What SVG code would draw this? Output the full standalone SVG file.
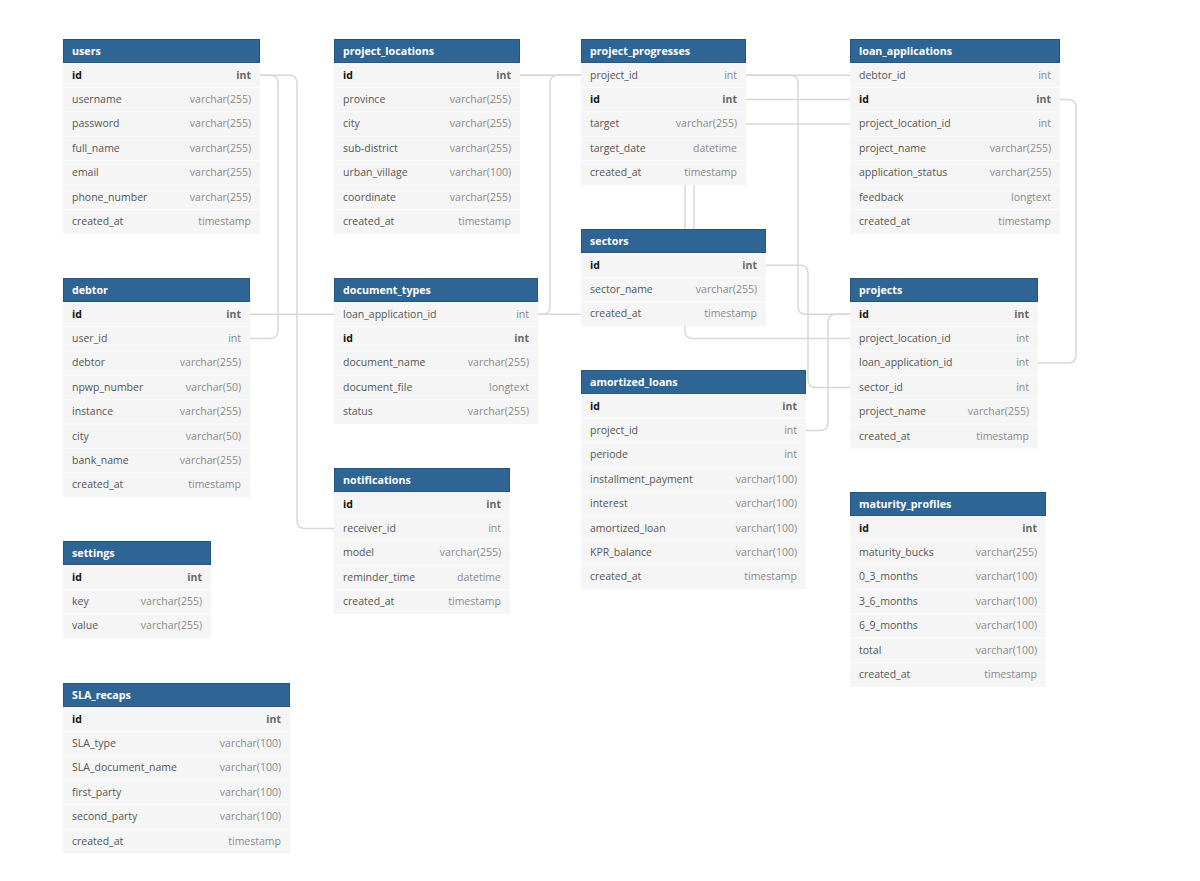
<svg xmlns="http://www.w3.org/2000/svg" width="1200" height="881" viewBox="0 0 1200 881">
<style>
.hd{fill:#2f6594;stroke:#24557f;stroke-width:1}
.bd{fill:#f5f5f5}
.sep{stroke:#fbfbfb;stroke-width:1}
.tt{font-family:"Open Sans","Liberation Sans",sans-serif;font-size:10.7px;font-weight:bold;fill:#ffffff}
.f{font-family:"Open Sans","Liberation Sans",sans-serif;font-size:10.5px;fill:#555555}
.t{font-family:"Open Sans","Liberation Sans",sans-serif;font-size:10.5px;fill:#8a8a8a;text-anchor:end}
.fk{font-family:"Open Sans","Liberation Sans",sans-serif;font-size:10.5px;fill:#111111;font-weight:bold}
.tk{font-family:"Open Sans","Liberation Sans",sans-serif;font-size:10.5px;fill:#666666;font-weight:bold;text-anchor:end}
.c{fill:none;stroke:#d8d8d8;stroke-width:1.5}
</style>
<rect width="1200" height="881" fill="#ffffff"/>
<g id="connectors">
<path class="c" d="M260,75.2 H270 Q278,75.2 278,83.2 V330.6 Q278,338.6 270,338.6 H250"/>
<path class="c" d="M260,75.2 H289 Q297,75.2 297,83.2 V520.6 Q297,528.6 305,528.6 H334"/>
<path class="c" d="M250,314.2 H542 Q550,314.2 550,306.2 V83.2 Q550,75.2 558,75.2 H850"/>
<path class="c" d="M538,314.2 H686 Q694,314.2 694,306.2 V107.6 Q694,99.6 702,99.6 H850"/>
<path class="c" d="M520,75.2 H677 Q685,75.2 685,83.2 V116 Q685,124 693,124 H850"/>
<path class="c" d="M520,75.2 H677 Q685,75.2 685,83.2 V330.6 Q685,338.6 693,338.6 H850"/>
<path class="c" d="M746,75.2 H790 Q798,75.2 798,83.2 V306.2 Q798,314.2 806,314.2 H850"/>
<path class="c" d="M766,265.2 H800 Q808,265.2 808,273.2 V379.4 Q808,387.4 816,387.4 H850"/>
<path class="c" d="M806,430.6 H820 Q828,430.6 828,422.6 V322.2 Q828,314.2 836,314.2 H850"/>
<path class="c" d="M1038,363 H1068 Q1076,363 1076,355 V107.6 Q1076,99.6 1068,99.6 H1060"/>
</g>

<g id="users" transform="translate(63,39)">
<rect class="bd" x="0" y="24" width="197" height="170.8"/>
<path class="sep" d="M0,48.4H197M0,72.8H197M0,97.2H197M0,121.6H197M0,146H197M0,170.4H197"/>
<rect class="hd" x="0.5" y="0.5" width="196" height="23"/>
<text class="tt" x="9" y="15.5">users</text>
<text class="fk" x="9" y="39.5">id</text><text class="tk" x="188" y="39.5">int</text>
<text class="f" x="9" y="63.9">username</text><text class="t" x="188" y="63.9">varchar(255)</text>
<text class="f" x="9" y="88.3">password</text><text class="t" x="188" y="88.3">varchar(255)</text>
<text class="f" x="9" y="112.7">full_name</text><text class="t" x="188" y="112.7">varchar(255)</text>
<text class="f" x="9" y="137.1">email</text><text class="t" x="188" y="137.1">varchar(255)</text>
<text class="f" x="9" y="161.5">phone_number</text><text class="t" x="188" y="161.5">varchar(255)</text>
<text class="f" x="9" y="185.9">created_at</text><text class="t" x="188" y="185.9">timestamp</text>
</g>

<g id="project_locations" transform="translate(334,39)">
<rect class="bd" x="0" y="24" width="186" height="170.8"/>
<path class="sep" d="M0,48.4H186M0,72.8H186M0,97.2H186M0,121.6H186M0,146H186M0,170.4H186"/>
<rect class="hd" x="0.5" y="0.5" width="185" height="23"/>
<text class="tt" x="9" y="15.5">project_locations</text>
<text class="fk" x="9" y="39.5">id</text><text class="tk" x="177" y="39.5">int</text>
<text class="f" x="9" y="63.9">province</text><text class="t" x="177" y="63.9">varchar(255)</text>
<text class="f" x="9" y="88.3">city</text><text class="t" x="177" y="88.3">varchar(255)</text>
<text class="f" x="9" y="112.7">sub-district</text><text class="t" x="177" y="112.7">varchar(255)</text>
<text class="f" x="9" y="137.1">urban_village</text><text class="t" x="177" y="137.1">varchar(100)</text>
<text class="f" x="9" y="161.5">coordinate</text><text class="t" x="177" y="161.5">varchar(255)</text>
<text class="f" x="9" y="185.9">created_at</text><text class="t" x="177" y="185.9">timestamp</text>
</g>

<g id="project_progresses" transform="translate(581,39)">
<rect class="bd" x="0" y="24" width="165" height="122"/>
<path class="sep" d="M0,48.4H165M0,72.8H165M0,97.2H165M0,121.6H165"/>
<rect class="hd" x="0.5" y="0.5" width="164" height="23"/>
<text class="tt" x="9" y="15.5">project_progresses</text>
<text class="f" x="9" y="39.5">project_id</text><text class="t" x="156" y="39.5">int</text>
<text class="fk" x="9" y="63.9">id</text><text class="tk" x="156" y="63.9">int</text>
<text class="f" x="9" y="88.3">target</text><text class="t" x="156" y="88.3">varchar(255)</text>
<text class="f" x="9" y="112.7">target_date</text><text class="t" x="156" y="112.7">datetime</text>
<text class="f" x="9" y="137.1">created_at</text><text class="t" x="156" y="137.1">timestamp</text>
</g>

<g id="loan_applications" transform="translate(850,39)">
<rect class="bd" x="0" y="24" width="210" height="170.8"/>
<path class="sep" d="M0,48.4H210M0,72.8H210M0,97.2H210M0,121.6H210M0,146H210M0,170.4H210"/>
<rect class="hd" x="0.5" y="0.5" width="209" height="23"/>
<text class="tt" x="9" y="15.5">loan_applications</text>
<text class="f" x="9" y="39.5">debtor_id</text><text class="t" x="201" y="39.5">int</text>
<text class="fk" x="9" y="63.9">id</text><text class="tk" x="201" y="63.9">int</text>
<text class="f" x="9" y="88.3">project_location_id</text><text class="t" x="201" y="88.3">int</text>
<text class="f" x="9" y="112.7">project_name</text><text class="t" x="201" y="112.7">varchar(255)</text>
<text class="f" x="9" y="137.1">application_status</text><text class="t" x="201" y="137.1">varchar(255)</text>
<text class="f" x="9" y="161.5">feedback</text><text class="t" x="201" y="161.5">longtext</text>
<text class="f" x="9" y="185.9">created_at</text><text class="t" x="201" y="185.9">timestamp</text>
</g>

<g id="debtor" transform="translate(63,278)">
<rect class="bd" x="0" y="24" width="187" height="195.2"/>
<path class="sep" d="M0,48.4H187M0,72.8H187M0,97.2H187M0,121.6H187M0,146H187M0,170.4H187M0,194.8H187"/>
<rect class="hd" x="0.5" y="0.5" width="186" height="23"/>
<text class="tt" x="9" y="15.5">debtor</text>
<text class="fk" x="9" y="39.5">id</text><text class="tk" x="178" y="39.5">int</text>
<text class="f" x="9" y="63.9">user_id</text><text class="t" x="178" y="63.9">int</text>
<text class="f" x="9" y="88.3">debtor</text><text class="t" x="178" y="88.3">varchar(255)</text>
<text class="f" x="9" y="112.7">npwp_number</text><text class="t" x="178" y="112.7">varchar(50)</text>
<text class="f" x="9" y="137.1">instance</text><text class="t" x="178" y="137.1">varchar(255)</text>
<text class="f" x="9" y="161.5">city</text><text class="t" x="178" y="161.5">varchar(50)</text>
<text class="f" x="9" y="185.9">bank_name</text><text class="t" x="178" y="185.9">varchar(255)</text>
<text class="f" x="9" y="210.3">created_at</text><text class="t" x="178" y="210.3">timestamp</text>
</g>

<g id="document_types" transform="translate(334,278)">
<rect class="bd" x="0" y="24" width="204" height="122"/>
<path class="sep" d="M0,48.4H204M0,72.8H204M0,97.2H204M0,121.6H204"/>
<rect class="hd" x="0.5" y="0.5" width="203" height="23"/>
<text class="tt" x="9" y="15.5">document_types</text>
<text class="f" x="9" y="39.5">loan_application_id</text><text class="t" x="195" y="39.5">int</text>
<text class="fk" x="9" y="63.9">id</text><text class="tk" x="195" y="63.9">int</text>
<text class="f" x="9" y="88.3">document_name</text><text class="t" x="195" y="88.3">varchar(255)</text>
<text class="f" x="9" y="112.7">document_file</text><text class="t" x="195" y="112.7">longtext</text>
<text class="f" x="9" y="137.1">status</text><text class="t" x="195" y="137.1">varchar(255)</text>
</g>

<g id="sectors" transform="translate(581,229)">
<rect class="bd" x="0" y="24" width="185" height="73.2"/>
<path class="sep" d="M0,48.4H185M0,72.8H185"/>
<rect class="hd" x="0.5" y="0.5" width="184" height="23"/>
<text class="tt" x="9" y="15.5">sectors</text>
<text class="fk" x="9" y="39.5">id</text><text class="tk" x="176" y="39.5">int</text>
<text class="f" x="9" y="63.9">sector_name</text><text class="t" x="176" y="63.9">varchar(255)</text>
<text class="f" x="9" y="88.3">created_at</text><text class="t" x="176" y="88.3">timestamp</text>
</g>

<g id="projects" transform="translate(850,278)">
<rect class="bd" x="0" y="24" width="188" height="146.4"/>
<path class="sep" d="M0,48.4H188M0,72.8H188M0,97.2H188M0,121.6H188M0,146H188"/>
<rect class="hd" x="0.5" y="0.5" width="187" height="23"/>
<text class="tt" x="9" y="15.5">projects</text>
<text class="fk" x="9" y="39.5">id</text><text class="tk" x="179" y="39.5">int</text>
<text class="f" x="9" y="63.9">project_location_id</text><text class="t" x="179" y="63.9">int</text>
<text class="f" x="9" y="88.3">loan_application_id</text><text class="t" x="179" y="88.3">int</text>
<text class="f" x="9" y="112.7">sector_id</text><text class="t" x="179" y="112.7">int</text>
<text class="f" x="9" y="137.1">project_name</text><text class="t" x="179" y="137.1">varchar(255)</text>
<text class="f" x="9" y="161.5">created_at</text><text class="t" x="179" y="161.5">timestamp</text>
</g>

<g id="amortized_loans" transform="translate(581,370)">
<rect class="bd" x="0" y="24" width="225" height="195.2"/>
<path class="sep" d="M0,48.4H225M0,72.8H225M0,97.2H225M0,121.6H225M0,146H225M0,170.4H225M0,194.8H225"/>
<rect class="hd" x="0.5" y="0.5" width="224" height="23"/>
<text class="tt" x="9" y="15.5">amortized_loans</text>
<text class="fk" x="9" y="39.5">id</text><text class="tk" x="216" y="39.5">int</text>
<text class="f" x="9" y="63.9">project_id</text><text class="t" x="216" y="63.9">int</text>
<text class="f" x="9" y="88.3">periode</text><text class="t" x="216" y="88.3">int</text>
<text class="f" x="9" y="112.7">installment_payment</text><text class="t" x="216" y="112.7">varchar(100)</text>
<text class="f" x="9" y="137.1">interest</text><text class="t" x="216" y="137.1">varchar(100)</text>
<text class="f" x="9" y="161.5">amortized_loan</text><text class="t" x="216" y="161.5">varchar(100)</text>
<text class="f" x="9" y="185.9">KPR_balance</text><text class="t" x="216" y="185.9">varchar(100)</text>
<text class="f" x="9" y="210.3">created_at</text><text class="t" x="216" y="210.3">timestamp</text>
</g>

<g id="notifications" transform="translate(334,468)">
<rect class="bd" x="0" y="24" width="176" height="122"/>
<path class="sep" d="M0,48.4H176M0,72.8H176M0,97.2H176M0,121.6H176"/>
<rect class="hd" x="0.5" y="0.5" width="175" height="23"/>
<text class="tt" x="9" y="15.5">notifications</text>
<text class="fk" x="9" y="39.5">id</text><text class="tk" x="167" y="39.5">int</text>
<text class="f" x="9" y="63.9">receiver_id</text><text class="t" x="167" y="63.9">int</text>
<text class="f" x="9" y="88.3">model</text><text class="t" x="167" y="88.3">varchar(255)</text>
<text class="f" x="9" y="112.7">reminder_time</text><text class="t" x="167" y="112.7">datetime</text>
<text class="f" x="9" y="137.1">created_at</text><text class="t" x="167" y="137.1">timestamp</text>
</g>

<g id="maturity_profiles" transform="translate(850,492)">
<rect class="bd" x="0" y="24" width="196" height="170.8"/>
<path class="sep" d="M0,48.4H196M0,72.8H196M0,97.2H196M0,121.6H196M0,146H196M0,170.4H196"/>
<rect class="hd" x="0.5" y="0.5" width="195" height="23"/>
<text class="tt" x="9" y="15.5">maturity_profiles</text>
<text class="fk" x="9" y="39.5">id</text><text class="tk" x="187" y="39.5">int</text>
<text class="f" x="9" y="63.9">maturity_bucks</text><text class="t" x="187" y="63.9">varchar(255)</text>
<text class="f" x="9" y="88.3">0_3_months</text><text class="t" x="187" y="88.3">varchar(100)</text>
<text class="f" x="9" y="112.7">3_6_months</text><text class="t" x="187" y="112.7">varchar(100)</text>
<text class="f" x="9" y="137.1">6_9_months</text><text class="t" x="187" y="137.1">varchar(100)</text>
<text class="f" x="9" y="161.5">total</text><text class="t" x="187" y="161.5">varchar(100)</text>
<text class="f" x="9" y="185.9">created_at</text><text class="t" x="187" y="185.9">timestamp</text>
</g>

<g id="settings" transform="translate(63,541)">
<rect class="bd" x="0" y="24" width="148" height="73.2"/>
<path class="sep" d="M0,48.4H148M0,72.8H148"/>
<rect class="hd" x="0.5" y="0.5" width="147" height="23"/>
<text class="tt" x="9" y="15.5">settings</text>
<text class="fk" x="9" y="39.5">id</text><text class="tk" x="139" y="39.5">int</text>
<text class="f" x="9" y="63.9">key</text><text class="t" x="139" y="63.9">varchar(255)</text>
<text class="f" x="9" y="88.3">value</text><text class="t" x="139" y="88.3">varchar(255)</text>
</g>

<g id="SLA_recaps" transform="translate(63,683)">
<rect class="bd" x="0" y="24" width="227" height="146.4"/>
<path class="sep" d="M0,48.4H227M0,72.8H227M0,97.2H227M0,121.6H227M0,146H227"/>
<rect class="hd" x="0.5" y="0.5" width="226" height="23"/>
<text class="tt" x="9" y="15.5">SLA_recaps</text>
<text class="fk" x="9" y="39.5">id</text><text class="tk" x="218" y="39.5">int</text>
<text class="f" x="9" y="63.9">SLA_type</text><text class="t" x="218" y="63.9">varchar(100)</text>
<text class="f" x="9" y="88.3">SLA_document_name</text><text class="t" x="218" y="88.3">varchar(100)</text>
<text class="f" x="9" y="112.7">first_party</text><text class="t" x="218" y="112.7">varchar(100)</text>
<text class="f" x="9" y="137.1">second_party</text><text class="t" x="218" y="137.1">varchar(100)</text>
<text class="f" x="9" y="161.5">created_at</text><text class="t" x="218" y="161.5">timestamp</text>
</g>
</svg>
